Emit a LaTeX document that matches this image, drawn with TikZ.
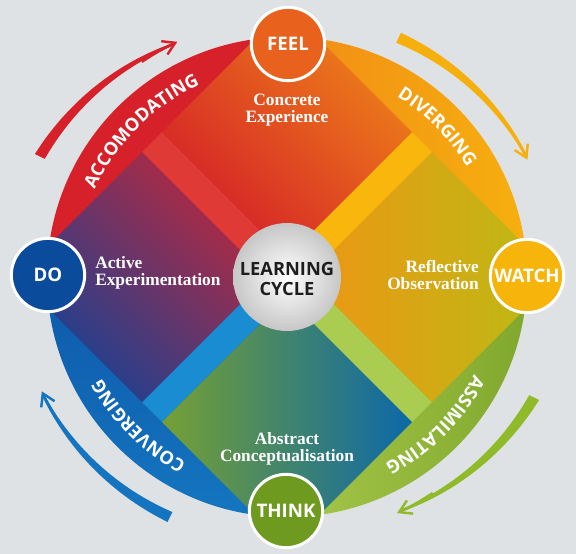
\documentclass[tikz,border=0pt]{standalone}
\usepackage{fontspec}
\setmainfont{Liberation Serif}
\setsansfont{Open Sans}
\usetikzlibrary{arrows.meta,decorations.text}

\definecolor{bgcol}{RGB}{222,226,229}
\definecolor{accred}{RGB}{214,33,42}
\definecolor{accband}{RGB}{224,58,55}
\definecolor{divorange}{RGB}{241,140,22}
\definecolor{divyellow}{RGB}{246,176,14}
\definecolor{divband}{RGB}{249,182,12}
\definecolor{assdark}{RGB}{128,168,45}
\definecolor{asslight}{RGB}{166,199,74}
\definecolor{assband}{RGB}{170,204,80}
\definecolor{assarrow}{RGB}{143,187,42}
\definecolor{condark}{RGB}{14,88,170}
\definecolor{conlight}{RGB}{20,118,192}
\definecolor{conband}{RGB}{26,140,210}
\definecolor{conarrow}{RGB}{21,116,192}
\definecolor{feelcol}{RGB}{232,98,30}
\definecolor{docol}{RGB}{10,75,155}
\definecolor{watchcol}{RGB}{247,181,12}
\definecolor{thinkcol}{RGB}{110,155,31}

\tikzset{
  stage/.style={circle, draw=white, line width=2.25pt, minimum size=55pt, inner sep=0pt,
    text=white, font=\sffamily\bfseries\fontsize{14}{16}\selectfont},
  desc/.style={inner sep=0.75pt, text=white, font=\rmfamily\bfseries\fontsize{13}{12.75}\selectfont},
  arctext/.style={decorate, decoration={text along path, text align=center,
    text={|\sffamily\bfseries\fontsize{13.6}{16}\selectfont\color{white}|#1}}},
  cyclearrow/.style={line width=1.8pt, -{Straight Barb[length=9pt,width=11pt]}},
}

\begin{document}
\begin{tikzpicture}[x=0.75pt,y=0.75pt,yscale=-1,xscale=1]
\useasboundingbox (0,0) rectangle (576,554);
\fill[bgcol] (0,0) rectangle (576,554);

% Outer quadrants
\fill[accred] (287,277) -- (47,277) arc[start angle=180, end angle=270, radius=240] -- cycle;
\shade[left color=divorange, right color=divyellow] (287,277) -- (287,37) arc[start angle=270, end angle=360, radius=240] -- cycle;
\shade[left color=asslight, right color=assdark] (287,277) -- (527,277) arc[start angle=0, end angle=90, radius=240] -- cycle;
\shade[top color=condark, bottom color=conlight] (287,277) -- (287,517) arc[start angle=90, end angle=180, radius=240] -- cycle;

% Bands
\fill[accband] (287,277) -- (287,257) -- (162,132) -- (142,152) -- (267,277) -- cycle;
\fill[divband] (287,277) -- (287,257) -- (412,132) -- (432,152) -- (307,277) -- cycle;
\fill[assband] (287,277) -- (307,277) -- (432,402) -- (412,422) -- (287,297) -- cycle;
\fill[conband] (287,277) -- (287,297) -- (162,422) -- (142,402) -- (267,277) -- cycle;

% Squares
\begin{scope}
\clip (287,277) circle [radius=240];
\shade[left color={rgb,255:red,212;green,30;blue,40}, right color={rgb,255:red,238;green,130;blue,25}, shading angle=135] (287,257) -- (162,132) -- (287,7) -- (412,132) -- cycle;
\shade[left color={rgb,255:red,238;green,150;blue,20}, right color={rgb,255:red,185;green,188;blue,20}] (307,277) -- (432,152) -- (557,277) -- (432,402) -- cycle;
\shade[left color={rgb,255:red,118;green,160;blue,52}, right color={rgb,255:red,12;green,104;blue,168}] (287,297) -- (412,422) -- (287,547) -- (162,422) -- cycle;
\shade[left color={rgb,255:red,20;green,66;blue,150}, right color={rgb,255:red,185;green,40;blue,62}, shading angle=135] (267,277) -- (142,402) -- (17,277) -- (142,152) -- cycle;
\end{scope}

% Centre
\shade[inner color=white, outer color=black!22] (287,277) circle [radius=54];
\draw (287,279) node (cycle) [align=center, inner sep=0.75pt, text={rgb,255:red,30;green,30;blue,30}, font=\sffamily\bfseries\fontsize{13.7}{14.3}\selectfont] {LEARNING\\CYCLE};

% Stages
\draw (288,44) node (feel) [stage, fill=feelcol] {FEEL};
\draw (48,275) node (do) [stage, fill=docol] {DO};
\draw (527,276) node (watch) [stage, fill=watchcol] {WATCH};
\draw (286,511) node (think) [stage, fill=thinkcol] {THINK};

% Text Node
\draw (287,110) node (concrete) [desc, align=center] {Concrete\\Experience};
\draw (94,273) node (active) [desc, anchor=west, align=left] {Active\\Experimentation};
\draw (480,275) node (reflective) [desc, anchor=east, align=right] {Reflective\\Observation};
\draw (287,449) node (abstract) [desc, align=center] {Abstract\\Conceptualisation};

\begin{scope}[shift={(287,277)}]
% Arc labels
\path[arctext=ACCOMODATING] (175:211) arc[start angle=175, end angle=275, radius=211];
\path[arctext=DIVERGING] (265:211) arc[start angle=265, end angle=365, radius=211];
\path[arctext=ASSIMILATING] (-5:211) arc[start angle=-5, end angle=95, radius=211];
\path[arctext=CONVERGING] (85:211) arc[start angle=85, end angle=185, radius=211];

% Cycle arrows
\fill[accred] plot[domain=206:244, samples=30] (\x:{280.5-0.533*(\x-206)}) -- plot[domain=244:206, samples=30] (\x:{269.5-0.309*(\x-206)}) -- cycle;
\draw[accred, cyclearrow] (236:259.5) arc[start angle=236, end angle=245, radius=259.5];
\fill[divyellow] plot[domain=295:333, samples=30] (\x:{269.5-0.0066*(\x-295)}) -- plot[domain=333:295, samples=30] (\x:{258.5+0.217*(\x-295)}) -- cycle;
\draw[divyellow, cyclearrow] (325:267.5) arc[start angle=325, end angle=334, radius=267.5];
\fill[assarrow] plot[domain=26:64, samples=30] (\x:{280.5-0.507*(\x-26)}) -- plot[domain=64:26, samples=30] (\x:{269.5-0.283*(\x-26)}) -- cycle;
\draw[assarrow, cyclearrow] (56:260.5) arc[start angle=56, end angle=65, radius=260.5];
\fill[conarrow] plot[domain=116:154, samples=30] (\x:{272.5-0.0066*(\x-116)}) -- plot[domain=154:116, samples=30] (\x:{261.5+0.217*(\x-116)}) -- cycle;
\draw[conarrow, cyclearrow] (146:270.5) arc[start angle=146, end angle=155, radius=270.5];
\end{scope}

\end{tikzpicture}
\end{document}
